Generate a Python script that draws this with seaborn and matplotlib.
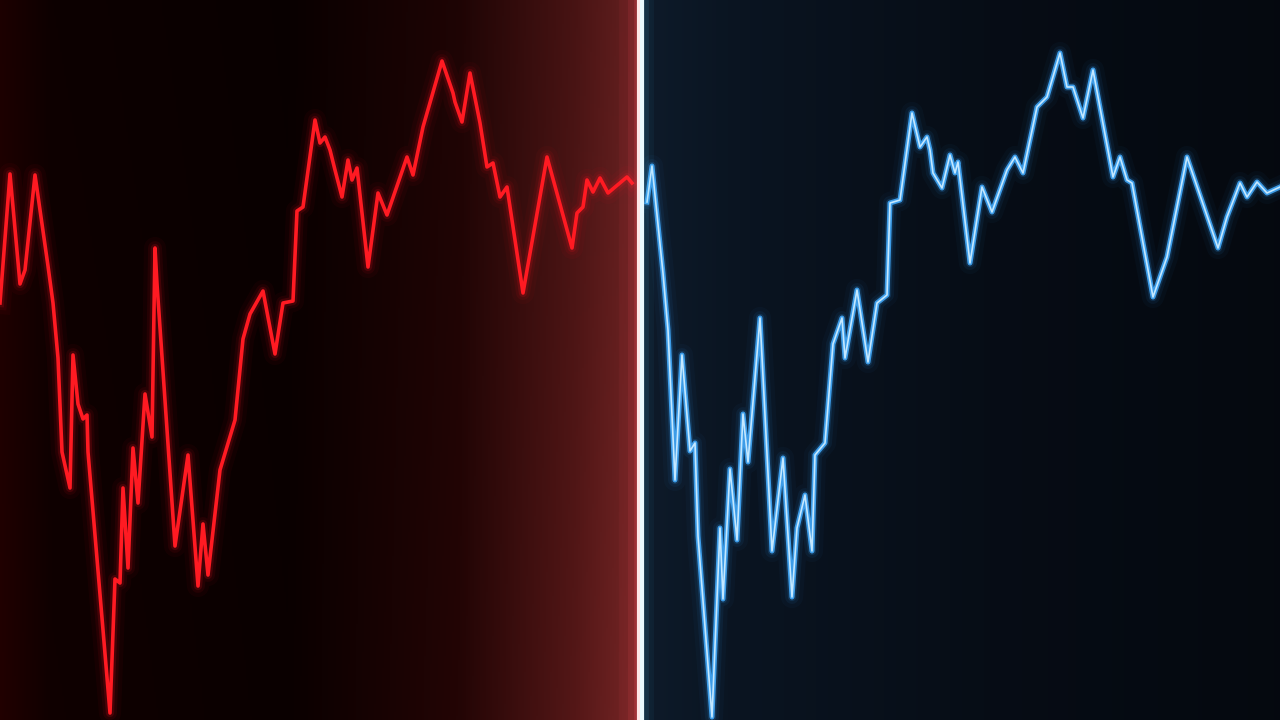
import numpy as np
import matplotlib
matplotlib.use("Agg")
import matplotlib.pyplot as plt
import seaborn as sns

# red series (left panel): x position, level (0 = bottom)
red_x = [0, 10, 20, 25, 35, 48, 53, 58, 62, 70, 73, 78, 83, 87, 88, 110, 115, 120, 123,
         128, 133, 138, 145, 152, 155, 157, 175, 188, 198, 203, 208, 220, 235, 243, 250, 263,
         275, 283, 293, 297, 303, 315, 320, 325, 330, 335, 342, 348, 352, 357, 368, 378, 387,
         407, 413, 423, 442, 453, 455, 462, 470, 480, 487, 493, 500, 507, 523, 547, 572, 577,
         583, 587, 593, 600, 608, 627, 632]
red_y = [417, 546, 436, 450, 545, 454, 417, 362, 268, 232, 365, 316, 301, 305, 268, 7, 141, 137, 232,
         152, 272, 217, 326, 283, 472, 436, 174, 265, 134, 196, 145, 250, 300, 381, 406, 429,
         366, 417, 419, 509, 513, 600, 577, 583, 570, 550, 523, 560, 540, 552, 453, 527, 505,
         563, 545, 593, 659, 627, 618, 598, 647, 597, 553, 557, 523, 533, 427, 563, 472, 507,
         513, 540, 528, 542, 527, 543, 537]

# blue series (right panel)
blue_x = [7, 12, 23, 28, 35, 42, 50, 55, 58, 72, 80, 83, 90, 97, 103, 108, 120, 132, 143, 152,
          157, 165, 172, 175, 185, 193, 202, 205, 217, 228, 237, 247, 250, 260, 272, 280, 287,
          290, 293, 302, 310, 315, 318, 330, 342, 352, 367, 375, 383, 397, 407, 420, 427, 433,
          443, 453, 473, 480, 487, 492, 513, 527, 547, 578, 587, 600, 607, 617, 627, 640]
blue_y = [518, 554, 447, 390, 240, 365, 269, 277, 184, 3, 192, 121, 251, 180, 306, 258, 402, 169, 262, 123,
          192, 225, 169, 265, 277, 376, 402, 362, 430, 358, 417, 425, 517, 520, 607, 573, 583,
          570, 547, 532, 565, 547, 558, 457, 533, 508, 550, 563, 547, 613, 623, 667, 633, 633,
          602, 650, 543, 563, 540, 537, 423, 463, 563, 472, 503, 537, 523, 538, 527, 533]

W, H = 640, 720

fig = plt.figure(figsize=(12.8, 7.2), dpi=100)
ax_l = fig.add_axes([0, 0, 0.5, 1])
ax_r = fig.add_axes([0.5, 0, 0.5, 1])


def gradient(keys, reds, greens, blues, top=0.8):
    xs = np.linspace(0, 1, 320)
    row = np.stack([np.interp(xs, keys, reds),
                    np.interp(xs, keys, greens),
                    np.interp(xs, keys, blues)], axis=-1)
    vert = np.linspace(1.0, top, 180)[:, None, None]  # bottom -> top
    return np.clip(row[None, :, :] * vert, 0, 1)


bg_l = gradient([0, 0.08, 0.45, 0.72, 0.9, 1.0],
                [0.13, 0.06, 0.04, 0.14, 0.33, 0.47],
                [0.0, 0.0, 0.0, 0.02, 0.09, 0.15],
                [0.0, 0.0, 0.0, 0.02, 0.09, 0.15], top=0.85)
bg_r = gradient([0, 0.15, 0.55, 1.0],
                [0.055, 0.04, 0.025, 0.02],
                [0.105, 0.08, 0.05, 0.035],
                [0.165, 0.13, 0.085, 0.06], top=1.0)

ax_l.imshow(bg_l, extent=[0, W, 0, H], origin="lower", aspect="auto", zorder=0)
ax_r.imshow(bg_r, extent=[0, W, 0, H], origin="lower", aspect="auto", zorder=0)

# red line with glow
for lw, a in [(16, 0.04), (10, 0.07), (6, 0.15)]:
    ax_l.plot(red_x, red_y, color="#ff1020", lw=lw, alpha=a, solid_joinstyle="round", zorder=2)
sns.lineplot(x=red_x, y=red_y, ax=ax_l, color="#ff1a22", lw=2.6, sort=False, zorder=3)

# blue line with glow and light core
for lw, a in [(16, 0.04), (10, 0.08), (6, 0.18)]:
    ax_r.plot(blue_x, blue_y, color="#2e8ee0", lw=lw, alpha=a, solid_joinstyle="round", zorder=2)
sns.lineplot(x=blue_x, y=blue_y, ax=ax_r, color="#3c9ce8", lw=3.6, sort=False, zorder=3)
sns.lineplot(x=blue_x, y=blue_y, ax=ax_r, color="#c4e8ff", lw=1.2, sort=False, zorder=4)

# divider: red glow on the left side, cyan glow on the right side
for lw, a in [(30, 0.06), (18, 0.1), (9, 0.2)]:
    ax_l.axvline(W, color="#ff5060", lw=lw, alpha=a, zorder=5)
for lw, a in [(20, 0.05), (12, 0.1), (6, 0.25)]:
    ax_r.axvline(0, color="#40c8ff", lw=lw, alpha=a, zorder=5)
ax_l.axvline(W - 1, color="#ffe6e6", lw=3, zorder=6)
ax_r.axvline(1.5, color="#e8faff", lw=3, zorder=6)

for ax in (ax_l, ax_r):
    ax.set_xlim(0, W)
    ax.set_ylim(0, H)
    ax.axis("off")

fig.savefig("out.png", dpi=100)
